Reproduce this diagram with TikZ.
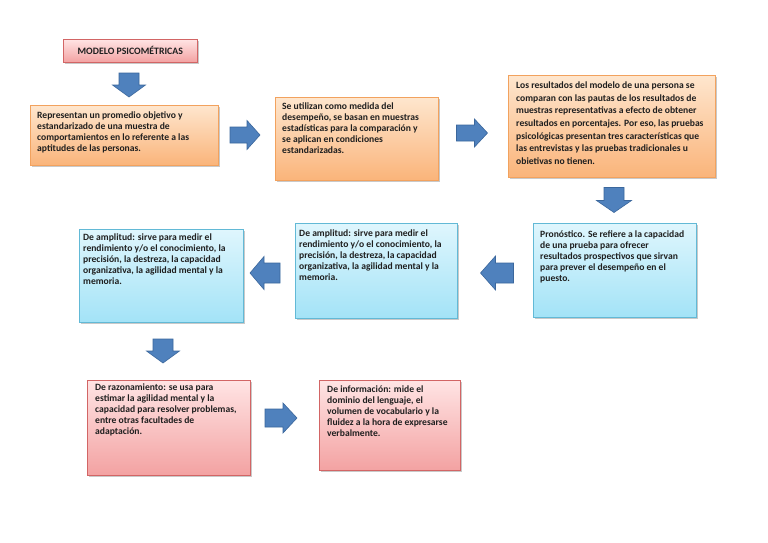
\documentclass[tikz,border=0pt]{standalone}
\usepackage{fontspec}
\setmainfont{Carlito}
\usetikzlibrary{shadows}

\definecolor{orT}{HTML}{FEE6CE}
\definecolor{orB}{HTML}{FAB47A}
\definecolor{orD}{HTML}{F2A25E}
\definecolor{blT}{HTML}{DFF6FD}
\definecolor{blB}{HTML}{A3E3F7}
\definecolor{blD}{HTML}{62B9D6}
\definecolor{pkT}{HTML}{FFE4E4}
\definecolor{pkB}{HTML}{F3A2A2}
\definecolor{pkD}{HTML}{D26565}
\definecolor{arrF}{HTML}{4F81BD}
\definecolor{arrD}{HTML}{3B679C}

\tikzset{
  box/.style={draw, line width=0.6pt, anchor=north west, inner sep=0pt,
    drop shadow={shadow xshift=1.5pt, shadow yshift=-2pt, opacity=0.35, fill=black!60}},
  orangebox/.style={box, draw=orD, top color=orT, bottom color=orB},
  bluebox/.style={box, draw=blD, top color=blT, bottom color=blB},
  pinkbox/.style={box, draw=pkD, top color=pkT, bottom color=pkB},
  txt/.style={anchor=north west, inner sep=0pt, align=left, text=black!88,
    font=\bfseries\fontsize{9.6}{11}\selectfont},
  txtwide/.style={txt, font=\bfseries\fontsize{9.6}{12.7}\selectfont},
  blockarrow/.style={draw=arrD, fill=arrF, line width=0.6pt, line join=miter},
}

% name, cx, cy, rotation, length, head width, shaft width, head length
\newcommand\blockarr[8]{%
  \coordinate (#1) at (#2,#3);
  \draw[blockarrow, shift={(#1)}, rotate=#4]
    (-#5/2,-#7/2) -- (#5/2-#8,-#7/2) -- (#5/2-#8,-#6/2) -- (#5/2,0)
    -- (#5/2-#8,#6/2) -- (#5/2-#8,#7/2) -- (-#5/2,#7/2) -- cycle;
}

\begin{document}
\begin{tikzpicture}[x=1pt,y=-1pt]
\useasboundingbox[fill=white] (0,0) rectangle (768,543);

% title
\node[pinkbox, minimum width=134pt, minimum height=23pt, align=center,
      font=\bfseries\fontsize{9.8}{11}\selectfont, text=black!88] (title) at (63,39) {MODELO PSICOMÉTRICAS};

% boxes
\node[orangebox, minimum width=188pt, minimum height=60pt] (b1) at (30,105) {};
\node[orangebox, minimum width=163pt, minimum height=83pt] (b2) at (275,97) {};
\node[orangebox, minimum width=207pt, minimum height=102pt] (b3) at (508,75) {};
\node[bluebox, minimum width=163pt, minimum height=94pt] (b4) at (533,223) {};
\node[bluebox, minimum width=162pt, minimum height=95pt] (b5) at (295,223) {};
\node[bluebox, minimum width=164pt, minimum height=93pt] (b6) at (79,229) {};
\node[pinkbox, minimum width=163pt, minimum height=95pt] (b7) at (87,380) {};
\node[pinkbox, minimum width=141pt, minimum height=90pt] (b8) at (319,380) {};

% texts
\node[txt] (t1) at (b1.north west) [xshift=7pt, yshift=-5.5pt] {\strut Representan un promedio objetivo y\\estandarizado de una muestra de\\comportamientos en lo referente a las\\aptitudes de las personas.};
\node[txt] (t2) at (b2.north west) [xshift=7pt, yshift=-4.5pt] {\strut Se utilizan como medida del\\desempeño, se basan en muestras\\estadísticas para la comparación y\\se aplican en condiciones\\estandarizadas.};
\node[txtwide] (t3) at (b3.north west) [xshift=8pt, yshift=-4.3pt] {\strut Los resultados del modelo de una persona se\\comparan con las pautas de los resultados de\\muestras representativas a efecto de obtener\\resultados en porcentajes. Por eso, las pruebas\\psicológicas presentan tres características que\\las entrevistas y las pruebas tradicionales u\\obietivas no tienen.};
\node[txt] (t4) at (b4.north west) [xshift=7pt, yshift=-6.5pt] {\strut Pronóstico. Se refiere a la capacidad\\de una prueba para ofrecer\\resultados prospectivos que sirvan\\para prever el desempeño en el\\puesto.};
\node[txt] (t5) at (b5.north west) [xshift=4pt, yshift=-5.5pt] {\strut De amplitud: sirve para medir el\\rendimiento y/o el conocimiento, la\\precisión, la destreza, la capacidad\\organizativa, la agilidad mental y la\\memoria.};
\node[txt] (t6) at (b6.north west) [xshift=4pt, yshift=-3.5pt] {\strut De amplitud: sirve para medir el\\rendimiento y/o el conocimiento, la\\precisión, la destreza, la capacidad\\organizativa, la agilidad mental y la\\memoria.};
\node[txt] (t7) at (b7.north west) [xshift=8pt, yshift=-2.5pt] {\strut De razonamiento: se usa para\\estimar la agilidad mental y la\\capacidad para resolver problemas,\\entre otras facultades de\\adaptación.};
\node[txt] (t8) at (b8.north west) [xshift=8pt, yshift=-4.5pt] {\strut De información: mide el\\dominio del lenguaje, el\\volumen de vocabulario y la\\fluidez a la hora de expresarse\\verbalmente.};

% block arrows
\blockarr{a1}{129}{85}{-90}{24}{33}{20}{12}
\blockarr{a2}{245}{135}{0}{30}{29}{16}{13}
\blockarr{a3}{472}{133}{0}{31}{28}{16}{13}
\blockarr{a4}{614}{200}{-90}{25}{35}{20}{12}
\blockarr{a5}{497}{273}{180}{33}{34}{20}{15}
\blockarr{a6}{265}{273}{180}{30}{33}{20}{14}
\blockarr{a7}{163}{351}{-90}{24}{33}{20}{12}
\blockarr{a8}{281}{418}{0}{32}{30}{18}{14}
\end{tikzpicture}
\end{document}
